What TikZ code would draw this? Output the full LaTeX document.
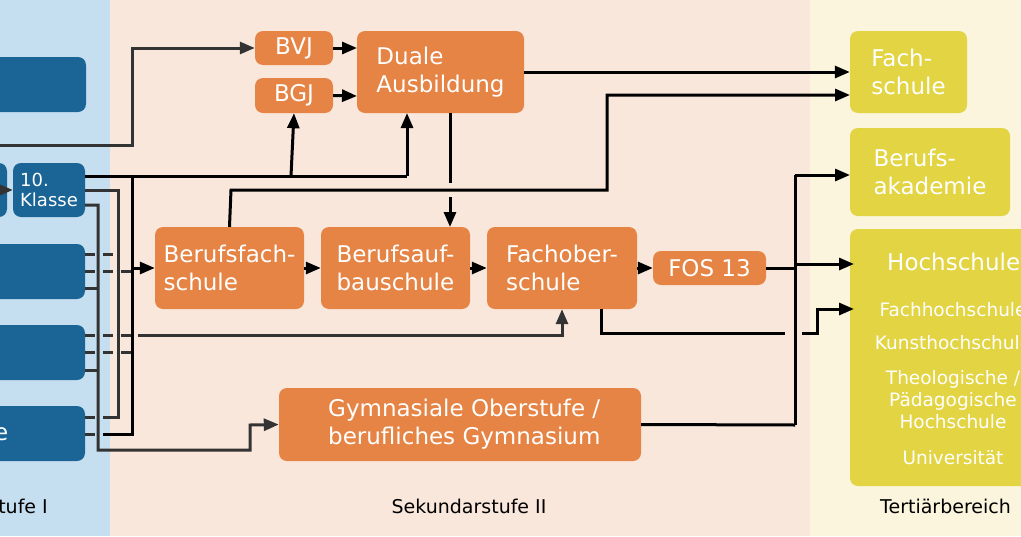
\documentclass[tikz,border=0pt]{standalone}
\usepackage{fontspec}
\setmainfont{DejaVu Sans}
\usetikzlibrary{arrows.meta}
\definecolor{bgb}{HTML}{C6DFF0}
\definecolor{bgo}{HTML}{F9E7DC}
\definecolor{bgy}{HTML}{FAF5DC}
\definecolor{cb}{HTML}{1A6496}
\definecolor{co}{HTML}{E58444}
\definecolor{cy}{HTML}{E3D443}
\definecolor{gl}{HTML}{333333}
\tikzset{
 box/.style={rounded corners=8pt,inner sep=0pt,text=white,font=\fontsize{23}{28}\selectfont},
 ob/.style={box,fill=co},
 bb/.style={box,fill=cb},
 yb/.style={box,fill=cy},
 ln/.style={line width=3pt,black},
 gln/.style={line width=3pt,gl},
 arr/.style={-{Triangle[length=15pt,width=12pt]}},
 lab/.style={font=\fontsize{19}{22}\selectfont,text=black},
}
\begin{document}
\begin{tikzpicture}[x=1pt,y=-1pt]
\useasboundingbox (0,0) rectangle (1021,536);
\fill[bgb] (0,0) rectangle (110,536);
\fill[bgo] (110,0) rectangle (810,536);
\fill[bgy] (810,0) rectangle (1021,536);
% blue boxes
\node[bb,minimum width=120,minimum height=55] (b1) at (26,84.5) {};
\node[bb,minimum width=40,minimum height=54] (b2) at (-13,190) {};
\node[bb,minimum width=72,minimum height=54,align=left,font=\fontsize{18}{20}\selectfont] (k10) at (49,190) {10.\\Klasse};
\node[bb,minimum width=120,minimum height=55] (b3) at (25,271.5) {};
\node[bb,minimum width=120,minimum height=55] (b4) at (25,352.5) {};
\node[bb,minimum width=120,minimum height=55] (b5) at (25,433.5) {};
\node[text=white,font=\fontsize{23}{28}\selectfont,anchor=west,inner sep=0] (b5t) at (-6,434) {e};
% orange
\node[ob,minimum width=78,minimum height=34] (bvj) at (294,48) {BVJ};
\node[ob,minimum width=78,minimum height=35] (bgj) at (294,95.5) {BGJ};
\node[ob,minimum width=167,minimum height=82,align=left] (dua) at (440.5,72) {Duale\\Ausbildung};
\node[ob,minimum width=149,minimum height=82,align=left] (bfs) at (229.5,268) {Berufsfach-\\schule};
\node[ob,minimum width=149,minimum height=82,align=left] (bas) at (395.5,268) {Berufsauf-\\bauschule};
\node[ob,minimum width=150,minimum height=82,align=left] (fos) at (562,268) {Fachober-\\schule};
\node[ob,minimum width=113,minimum height=34] (f13) at (709.5,268) {FOS 13};
\node[ob,minimum width=362,minimum height=73] (gym) at (460,424.5) {};
\node[text=white,font=\fontsize{23}{28}\selectfont,anchor=west,inner sep=0,align=left] (gymt) at (328,424.5) {Gymnasiale Oberstufe /\\berufliches Gymnasium};
% yellow
\node[yb,minimum width=117,minimum height=82,align=left] (fs) at (908.5,72) {Fach-\\schule};
\node[yb,minimum width=160,minimum height=88,align=left] (ba) at (930,172) {Berufs-\\akademie};
\node[yb,minimum width=190,minimum height=257] (hs) at (945,357.5) {};
\node[text=white,font=\fontsize{23}{28}\selectfont,anchor=west,inner sep=0] (hst) at (887,262) {Hochschule};
\begin{scope}[every node/.style={text=white,font=\fontsize{18.5}{22}\selectfont,inner sep=0,align=center}]
\node (h1) at (953,310) {Fachhochschule};
\node (h2) at (953,343) {Kunsthochschule};
\node (h3) at (953,400) {Theologische /\\Pädagogische\\Hochschule};
\node (h4) at (953,458) {Universität};
\end{scope}
% labels
\node[lab,anchor=east,inner sep=0] (l1) at (48,506) {tufe I};
\node[lab,inner sep=0] (l2) at (469,506) {Sekundarstufe II};
\node[lab,anchor=west,inner sep=0] (l3) at (880,506) {Tertiärbereich};
% connectors
\coordinate (c0) at (0,145);
\draw[gln,arr] (c0) -- (132,145) -- (132,48) -- (bvj.west);
\draw[ln,arr] (bvj.east) -- (357,48);
\draw[ln,arr] (bgj.east) -- (357,96);
\draw[ln,arr] (dua.east) -- (fs.west);
\draw[ln,arr] (bfs.north) -- (231,190) -- (607,190) -- (607,95) -- (850,95);
\draw[ln] (85,176) -- (407,176);
\draw[ln,arr] (291,176) -- (bgj.south);
\draw[ln,arr] (407,176) -- (407,113);
\draw[ln] (132,176) -- (132,434) -- (103,434);
\draw[ln,arr] (132,268) -- (bfs.west);
\draw[ln] (450,113) -- (450,183);
\draw[ln,arr] (450,197) -- (450,227);
\draw[ln,arr] (bfs.east) -- (bas.west);
\draw[ln,arr] (bas.east) -- (fos.west);
\draw[ln,arr] (fos.east) -- (f13.west);
\draw[ln] (f13.east) -- (795,268);
\draw[ln] (795,175) -- (795,425);
\draw[ln,arr] (795,175) -- (850,175);
\draw[ln,arr] (795,264) -- (854,264);
\draw[ln] (gym.east) -- (795,425);
\draw[ln] (601,309) -- (601,333) -- (785,333);
\draw[ln,arr] (802,333) -- (817,333) -- (817,309) -- (854,309);
\draw[gln,arr] (138,335) -- (562,335) -- (fos.south);
\draw[gln] (85,190) -- (118,190) -- (118,417) -- (103,417);
\draw[gln,arr] (85,205) -- (98,205) -- (98,450) -- (250,450) -- (250,425) -- (gym.west);
\draw[gln,arr] (0,190) -- (k10.west);
\begin{scope}[gln,dash pattern=on 10pt off 8pt]
\draw (85,254) -- (118,254);
\draw (85,271) -- (132,271);
\draw (85,335) -- (132,335);
\draw (85,352) -- (132,352);
\draw (85,417) -- (103,417);
\draw (85,434) -- (103,434);
\end{scope}
\draw[gln] (85,288) -- (98,288);
\draw[gln] (85,370) -- (98,370);
\end{tikzpicture}
\end{document}
